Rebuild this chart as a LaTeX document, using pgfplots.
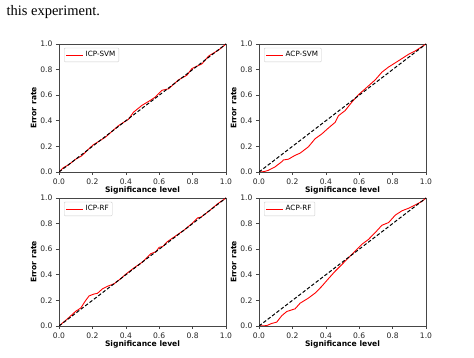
\documentclass[border=0pt]{standalone}
\usepackage{fontspec}
\setmainfont{DejaVu Sans}
\newfontfamily\seriffont{Liberation Serif}
\usepackage{pgfplots}
\pgfplotsset{compat=1.18}
\definecolor{axgray}{RGB}{70,70,70}
\pgfplotsset{
  calplot/.style={
    scale only axis, width=167pt, height=128pt,
    xmin=0, xmax=1, ymin=0, ymax=1,
    xtick={0,0.2,0.4,0.6,0.8,1.0}, ytick={0,0.2,0.4,0.6,0.8,1.0},
    tick align=outside, tick pos=left,
    major tick length=3pt,
    /pgf/number format/assume math mode=true,
    /pgf/number format/fixed, /pgf/number format/fixed zerofill, /pgf/number format/precision=1,
    ticklabel style={font=\fontsize{7.6}{8}\selectfont, color=black!85},
    axis line style={axgray, line width=0.8pt},
    every tick/.style={axgray, line width=0.6pt},
    xlabel={\bfseries Significance level}, ylabel={\bfseries Error rate},
    label style={font=\fontsize{7.6}{8}\selectfont},
    xlabel style={yshift=4pt},
    ylabel style={yshift=-3pt},
    legend style={at={(0.03,0.97)}, anchor=north west, font=\fontsize{7.2}{8}\selectfont,
      draw=black!20, rounded corners=1pt, inner sep=1.5pt, row sep=0pt},
    legend cell align=left,
    legend image post style={},
  },
  calcurve/.style={red, line width=0.9pt},
  diag/.style={black, dashed, line width=1.0pt, dash pattern=on 3.5pt off 2pt},
}
\begin{document}
\begin{tikzpicture}
\path[use as bounding box] (0,0) rectangle (474pt,358pt);
\node[anchor=base west, font=\seriffont\fontsize{14.5}{16}\selectfont] at (3pt,342pt) {this experiment.};
% top-left
\begin{axis}[calplot, at={(59pt,186pt)}, anchor=south west]
\addplot[calcurve] coordinates {(0,0) (0.026,0.034) (0.056,0.055) (0.1,0.1) (0.136,0.126) (0.186,0.19) (0.206,0.213) (0.276,0.27) (0.356,0.362) (0.416,0.412) (0.446,0.467) (0.496,0.52) (0.546,0.559) (0.576,0.585) (0.616,0.638) (0.656,0.65) (0.716,0.72) (0.766,0.756) (0.796,0.808) (0.856,0.845) (0.896,0.906) (0.956,0.953) (1,1)};
\addlegendentry{ICP-SVM}
\addplot[diag, forget plot] coordinates {(0,0) (1,1)};
\end{axis}
% top-right
\begin{axis}[calplot, at={(259pt,186pt)}, anchor=south west]
\addplot[calcurve] coordinates {(0,0) (0.03,0.003) (0.056,0.013) (0.096,0.04) (0.136,0.08) (0.146,0.094) (0.176,0.10) (0.216,0.13) (0.246,0.147) (0.296,0.197) (0.336,0.26) (0.376,0.297) (0.416,0.344) (0.456,0.388) (0.476,0.44) (0.516,0.48) (0.556,0.546) (0.596,0.604) (0.636,0.65) (0.696,0.72) (0.736,0.78) (0.776,0.82) (0.816,0.853) (0.856,0.886) (0.896,0.92) (0.936,0.946) (0.976,0.98) (1,1)};
\addlegendentry{ACP-SVM}
\addplot[diag, forget plot] coordinates {(0,0) (1,1)};
\end{axis}
% bottom-left
\begin{axis}[calplot, at={(59pt,32pt)}, anchor=south west]
\addplot[calcurve] coordinates {(0,0) (0.05,0.055) (0.1,0.115) (0.13,0.14) (0.16,0.2) (0.18,0.235) (0.21,0.25) (0.23,0.255) (0.26,0.29) (0.29,0.31) (0.33,0.33) (0.37,0.37) (0.4,0.405) (0.45,0.455) (0.5,0.5) (0.55,0.565) (0.58,0.58) (0.6,0.615) (0.62,0.62) (0.65,0.66) (0.7,0.705) (0.75,0.75) (0.8,0.805) (0.83,0.845) (0.85,0.85) (0.9,0.9) (0.95,0.955) (1,1)};
\addlegendentry{ICP-RF}
\addplot[diag, forget plot] coordinates {(0,0) (1,1)};
\end{axis}
% bottom-right
\begin{axis}[calplot, at={(259pt,32pt)}, anchor=south west]
\addplot[calcurve] coordinates {(0,0) (0.046,0.003) (0.076,0.02) (0.106,0.03) (0.136,0.08) (0.166,0.113) (0.196,0.126) (0.216,0.134) (0.246,0.178) (0.296,0.218) (0.336,0.257) (0.376,0.31) (0.416,0.37) (0.456,0.428) (0.496,0.48) (0.536,0.533) (0.576,0.585) (0.616,0.638) (0.656,0.677) (0.696,0.73) (0.736,0.787) (0.776,0.808) (0.816,0.866) (0.856,0.9) (0.896,0.92) (0.936,0.946) (0.976,0.974) (1,1)};
\addlegendentry{ACP-RF}
\addplot[diag, forget plot] coordinates {(0,0) (1,1)};
\end{axis}
\end{tikzpicture}
\end{document}
